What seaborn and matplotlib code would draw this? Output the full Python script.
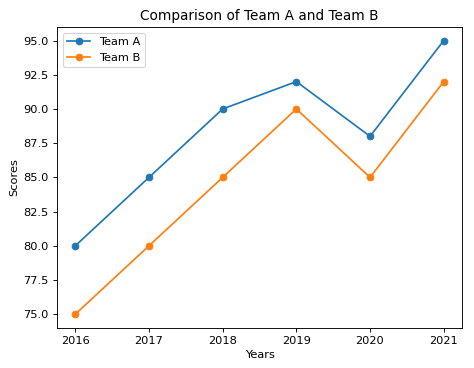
import pandas as pd
import matplotlib.pyplot as plt
import seaborn as sns

# Data
years = [2016, 2017, 2018, 2019, 2020, 2021]
team_a = [80, 85, 90, 92, 88, 95]
team_b = [75, 80, 85, 90, 85, 92]

df = pd.DataFrame({
    'Years': years * 2,
    'Scores': team_a + team_b,
    'Team': ['Team A'] * len(years) + ['Team B'] * len(years),
})

# 474x368 pixels
dpi = 82
fig, ax = plt.subplots(figsize=(474 / dpi, 368 / dpi), dpi=dpi)
sns.lineplot(data=df, x='Years', y='Scores', hue='Team', marker='o',
             markeredgecolor=None, palette=['#1f77b4', '#ff7f0e'], ax=ax)

ax.set_title('Comparison of Team A and Team B')
ax.set_xlabel('Years')
ax.set_ylabel('Scores')
ax.legend(title=None, loc='upper left')

fig.subplots_adjust(left=0.12, right=0.975, top=0.927, bottom=0.109)
fig.savefig('out.png', dpi=dpi)
